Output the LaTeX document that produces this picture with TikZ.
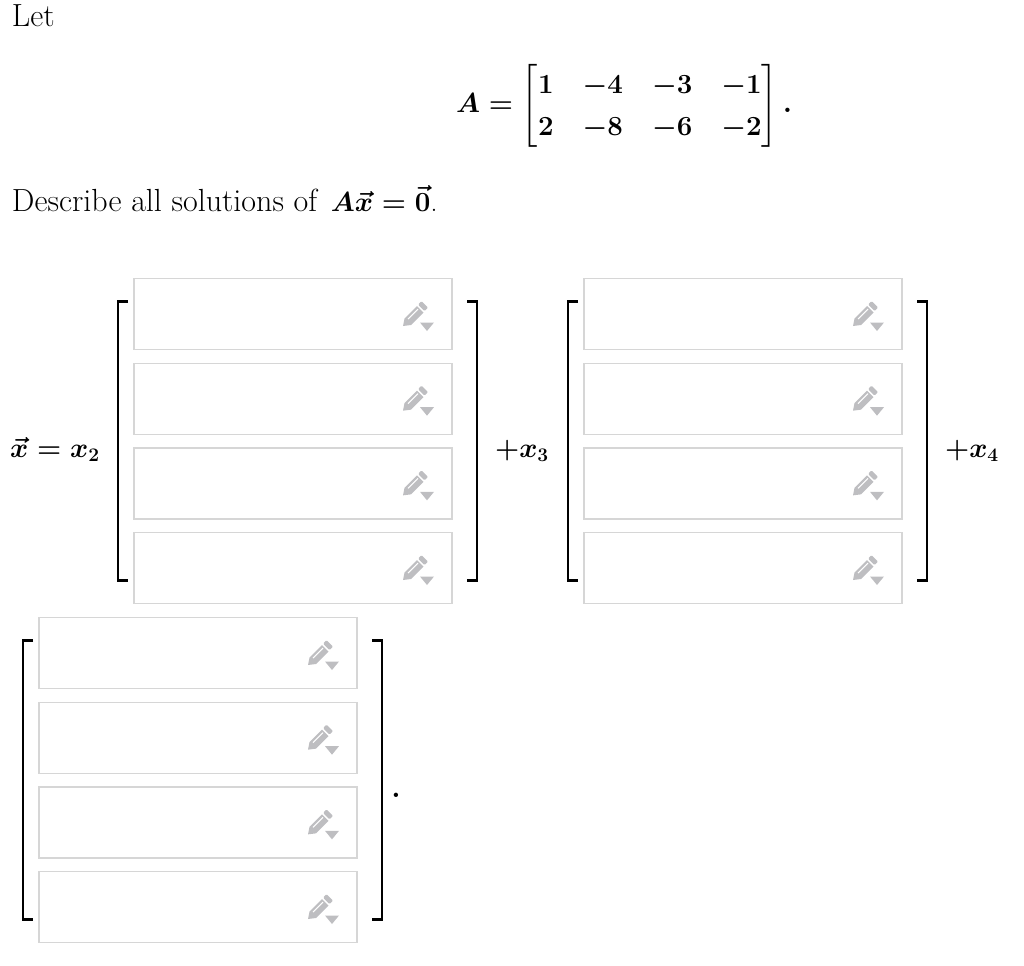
\documentclass[tikz,border=0pt]{standalone}
\usepackage{amsmath}
\usetikzlibrary{positioning}
\definecolor{boxgray}{RGB}{214,214,214}
\definecolor{pengray}{RGB}{190,190,193}
\newcommand{\bodysize}{\fontsize{24}{28}\selectfont}
\newcommand{\mathsize}{\fontsize{20.74}{25}\selectfont\boldmath}
\tikzset{
  ansbox/.style={draw=boxgray,line width=1pt,minimum width=238.5pt,minimum height=53.25pt,inner sep=0pt,outer sep=0pt},
  brk/.style={line width=1.9pt,line cap=butt,miter limit=10},
  txt/.style={inner sep=0pt,outer sep=0pt,font=\bodysize},
  mth/.style={inner sep=0pt,outer sep=0pt,font=\mathsize},
  penicon/.pic={
    \fill[pengray,x=.75pt,y=-.75pt] (-49,12) -- (-47.5,4.5) -- (-35,-8) -- (-28.5,-1.5) -- (-41,11) -- cycle;
    \fill[pengray,x=.75pt,y=-.75pt,rounded corners=.8pt] (-34,-9.5) -- (-30.5,-13) -- (-24,-6.5) -- (-27.5,-3) -- cycle;
    \draw[white,line width=.8pt,x=.75pt,y=-.75pt] (-44,5) -- (-34,-5);
    \fill[pengray,x=.75pt,y=-.75pt] (-32,8.5) -- (-18,8.5) -- (-25,17) -- cycle;
  }
}
\begin{document}
\begin{tikzpicture}[x=.75pt,y=-.75pt]
\useasboundingbox (0,0) rectangle (1024,965);
% text at the top
\node[txt,anchor=base west] (let) at (12,26) {Let};
\node[txt,anchor=base west] (describe) at (12,211) {Describe all solutions of\hspace{3pt} {\mathsize$A\vec{x}=\vec{0}$.}};
\node[mth,anchor=west] (matA) at (456,106) {\setlength\arraycolsep{10.9pt}\renewcommand{\arraystretch}{1.28}$A=\begin{bmatrix}1&-4&-3&-1\\2&-8&-6&-2\end{bmatrix}.$};
% first column
\node[ansbox,anchor=north west] (a1) at (134,278.5) {};
\node[ansbox,below=10.25pt of a1] (a2) {};
\node[ansbox,below=10.25pt of a2] (a3) {};
\node[ansbox,below=10.25pt of a3] (a4) {};
% second column
\node[ansbox,anchor=north west] (b1) at (584,278.5) {};
\node[ansbox,below=10.25pt of b1] (b2) {};
\node[ansbox,below=10.25pt of b2] (b3) {};
\node[ansbox,below=10.25pt of b3] (b4) {};
% third column
\node[ansbox,anchor=north west] (c1) at (39,617.5) {};
\node[ansbox,below=10.25pt of c1] (c2) {};
\node[ansbox,below=10.25pt of c2] (c3) {};
\node[ansbox,below=10.25pt of c3] (c4) {};
\foreach \n in {a1,a2,a3,a4,b1,b2,b3,b4,c1,c2,c3,c4}
  \pic at (\n.east) {penicon};
% brackets
\foreach \n/\m in {a1/a4,b1/b4,c1/c4}{
  \draw[brk] ([shift={(-6,23)}]\n.north west) -- ([shift={(-16,23)}]\n.north west) -- ([shift={(-16,-23)}]\m.south west) -- ([shift={(-6,-23)}]\m.south west);
  \draw[brk] ([shift={(15,23)}]\n.north east) -- ([shift={(25,23)}]\n.north east) -- ([shift={(25,-23)}]\m.south east) -- ([shift={(15,-23)}]\m.south east);
}
% labels between the brackets
\node[mth,anchor=base] (xvec) at (55,457) {$\vec{x}=x_2$};
\node[mth,anchor=base] (xthree) at (522,457) {$+x_3$};
\node[mth,anchor=base] (xfour) at (972,457) {$+x_4$};
\node[mth,anchor=base] (stop) at (396,797) {$.$};
\end{tikzpicture}
\end{document}
